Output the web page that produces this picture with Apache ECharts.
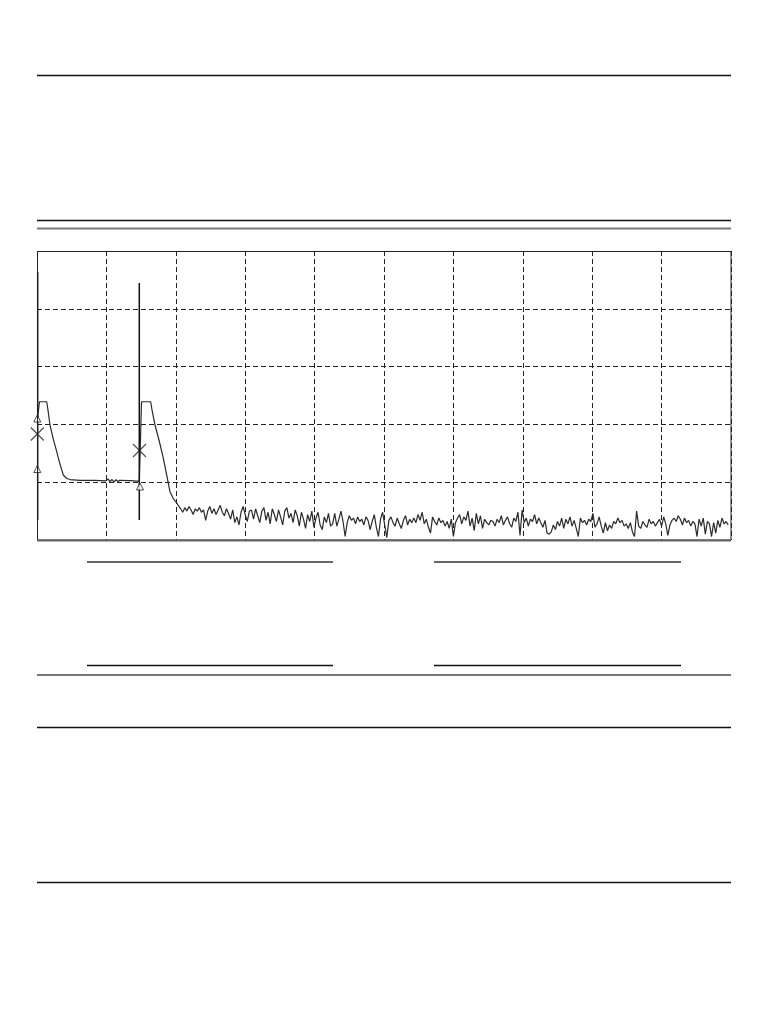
<!DOCTYPE html>
<html>
<head>
<meta charset="utf-8">
<script src="https://cdn.jsdelivr.net/npm/echarts@6/dist/echarts.min.js"></script>
<style>
html,body{margin:0;padding:0;background:#fff;}
#chart{width:768px;height:1024px;}
</style>
</head>
<body>
<div id="chart"></div>
<script>
// Trace (distance in divisions, level in dB)
const traceHead = [
  [0.007,10.55],[0.036,11.96],[0.140,11.96],[0.158,11.25],[0.187,9.95],[0.231,8.82],
  [0.284,7.64],[0.331,6.57],[0.379,5.62],[0.428,5.32],[0.476,5.23],[0.620,5.16],
  [0.836,5.15],[0.994,5.12],[1.023,5.28],[1.052,5.06],[1.081,5.23],[1.110,5.02],
  [1.138,5.21],[1.167,5.06],[1.196,5.16],[1.340,5.14],[1.441,5.10],[1.474,5.10],
  [1.506,11.96],[1.638,11.96],[1.657,11.25],[1.700,9.95],[1.758,8.65],[1.820,7.09],
  [1.869,5.62],[1.916,4.18],[1.960,3.63],[2.013,3.20]
];
const noiseStart = 2.04;
const noiseStep = 0.03;
const noiseLevels = [
  3.1,2.7,2.4,2.8,2.5,2.9,2.6,2.2,2.7,2.5,2.8,2.4,2.6,1.7,2.5,2.9,2.3,2.7,2.2,2.6,3.0,2.4,2.1,2.7,2.3,1.8,2.6,1.5,2.0,1.3,2.4,2.9,2.2,1.6,2.5,
  2.6,1.8,2.7,2.1,1.5,2.5,2.8,1.7,2.4,1.4,2.7,2.2,1.6,2.6,2.0,1.3,2.5,2.8,1.9,2.3,1.5,2.6,2.1,1.2,2.4,1.8,1.0,2.2,1.6,2.5,1.1,1.9,2.4,1.3,0.9,2.0,1.5,2.3,1.2,
  1.4,2.3,1.2,1.8,2.5,1.6,0.3,1.5,2.1,1.7,1.9,1.4,2.0,1.6,1.8,1.3,2.0,1.7,0.9,1.6,2.2,1.1,0.3,1.8,2.4,1.3,0.2,1.7,2.0,1.5,1.2,1.9,1.4,1.0,1.7,2.1,1.3,1.8,1.5,
  1.9,1.5,2.2,1.7,2.4,1.4,1.8,1.1,0.6,2.0,1.6,1.3,1.9,1.5,1.7,1.2,1.6,1.0,1.8,0.3,1.5,1.9,2.2,1.4,2.0,1.7,2.5,1.2,1.9,0.8,2.3,1.4,2.1,1.0,1.8,1.5,1.3,1.7,1.6,
  1.2,1.8,1.5,2.1,1.3,1.7,2.0,1.4,1.1,1.9,1.6,2.4,0.4,2.6,1.5,1.9,1.2,1.8,1.6,2.2,1.4,1.9,1.5,1.1,1.7,0.6,0.5,0.7,1.3,0.9,1.6,1.2,1.9,1.0,1.8,1.4,2.0,1.2,1.7,
  1.0,0.3,1.9,1.5,1.7,1.3,1.8,1.6,2.3,1.1,1.4,2.0,1.2,0.6,1.5,0.8,1.3,1.0,1.6,1.4,1.9,1.5,1.7,1.2,1.4,1.0,1.5,0.7,0.3,2.5,1.2,1.0,1.6,1.3,1.1,1.8,1.4,1.6,1.2,
  1.5,1.8,1.2,2.0,1.4,0.4,1.3,1.7,1.9,1.6,2.1,1.8,1.3,1.9,1.5,1.7,1.2,1.6,1.4,0.3,1.8,1.2,1.9,0.5,1.6,1.4,0.3,1.5,0.6,1.7,1.1,1.9,1.4,1.6,1.3
];
// Event markers
const eventLine1 = [[0.01,1.73],[0.01,23.18]];
const eventLine2 = [[1.474,1.73],[1.474,22.23]];
const crossMarks = [[0.004,9.17],[1.477,7.74]];
const triangleMarks = [[0.004,10.51],[0.004,6.14],[1.484,4.63]];
// Axis ranges
const xMin = 0, xMax = 10, xInterval = 1;
const yMin = 0, yMax = 25, yInterval = 5;

const trace = traceHead.concat(noiseLevels.map((v,i)=>[+(noiseStart+i*noiseStep).toFixed(3), v]));

const chart = echarts.init(document.getElementById('chart'), null, {renderer:'canvas'});

function hline(y, x1, x2, color, w){
  return {type:'line', shape:{x1:x1, y1:y, x2:x2, y2:y}, style:{stroke:color, lineWidth:w}, silent:true, z:100};
}

const option = {
  animation:false,
  backgroundColor:'#fff',
  grid:{left:37, top:251, width:694, height:289, show:false},
  xAxis:{type:'value', min:xMin, max:xMax, interval:xInterval,
    axisLine:{show:false}, axisTick:{show:false}, axisLabel:{show:false},
    splitLine:{show:true, lineStyle:{color:'#222', width:1, type:[5,3]}}},
  yAxis:{type:'value', min:yMin, max:yMax, interval:yInterval,
    axisLine:{show:false}, axisTick:{show:false}, axisLabel:{show:false},
    splitLine:{show:true, lineStyle:{color:'#222', width:1, type:[5,3]}}},
  series:[
    {type:'line', data:trace, showSymbol:false, symbol:'none', lineStyle:{color:'#2a2a2a', width:1.2}, z:3},
    {type:'line', data:eventLine1, showSymbol:false, symbol:'none', lineStyle:{color:'#111', width:1.5}, z:4},
    {type:'line', data:eventLine2, showSymbol:false, symbol:'none', lineStyle:{color:'#111', width:1.5}, z:4},
    {type:'scatter', data:crossMarks, symbol:'path://M0,0L10,10M10,0L0,10', symbolSize:13,
      itemStyle:{color:'none', borderColor:'#222', borderWidth:1.2}, z:5},
    {type:'scatter', data:triangleMarks, symbol:'triangle', symbolSize:7,
      itemStyle:{color:'#fff', borderColor:'#222', borderWidth:1}, z:5}
  ],
  graphic:[
    {type:'rect', shape:{x:37.5, y:251.5, width:693.5, height:288.5}, style:{fill:null, stroke:'#222', lineWidth:1}, silent:true, z:100},
    hline(75.5, 37, 731, '#111', 1.5),
    hline(220.5, 37, 731, '#111', 1.5),
    hline(228.5, 37, 731, '#777', 2),
    hline(540.5, 37, 731, '#666', 2),
    hline(562, 87, 333, '#666', 2),
    hline(562, 434, 681, '#666', 2),
    hline(665.5, 87, 333, '#111', 1.5),
    hline(665.5, 434, 681, '#111', 1.5),
    hline(675, 37, 731, '#777', 2),
    hline(727.5, 37, 731, '#111', 1.5),
    hline(882.5, 37, 731, '#111', 1.5)
  ]
};
chart.setOption(option);
</script>
</body>
</html>
